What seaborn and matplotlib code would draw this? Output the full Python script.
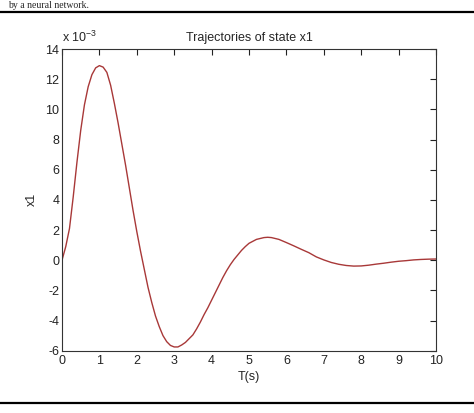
import numpy as np
import matplotlib
matplotlib.use("Agg")
import matplotlib.pyplot as plt
import pandas as pd
import seaborn as sns
from matplotlib.lines import Line2D

# значения x1 (в единицах 1e-3)
t_values = [0.0, 0.1, 0.2, 0.3, 0.4, 0.5, 0.6, 0.7, 0.8, 0.9,
            1.0, 1.1, 1.2, 1.3, 1.4, 1.5, 1.6, 1.7, 1.8, 1.9,
            2.0, 2.1, 2.2, 2.3, 2.4, 2.5, 2.6, 2.7, 2.8, 2.9,
            3.0, 3.1, 3.2, 3.3, 3.4, 3.5, 3.6, 3.7, 3.8, 3.9,
            4.0, 4.1, 4.2, 4.3, 4.4, 4.5, 4.6, 4.7, 4.8, 4.9,
            5.0, 5.2, 5.4, 5.5, 5.6, 5.8, 6.0, 6.2, 6.4, 6.6,
            6.8, 7.0, 7.2, 7.4, 7.6, 7.8, 8.0, 8.2, 8.4, 8.6,
            8.8, 9.0, 9.2, 9.4, 9.6, 9.8, 10.0]
x1_values = [0.0, 0.9, 2.1, 4.2, 6.5, 8.6, 10.3, 11.5, 12.3, 12.75,
             12.9, 12.8, 12.45, 11.6, 10.4, 9.1, 7.7, 6.3, 4.8, 3.3,
             1.9, 0.6, -0.6, -1.8, -2.8, -3.7, -4.4, -5.0, -5.4, -5.65,
             -5.75, -5.75, -5.62, -5.45, -5.2, -4.95, -4.55, -4.1, -3.6, -3.15,
             -2.65, -2.15, -1.65, -1.15, -0.7, -0.3, 0.05, 0.35, 0.65, 0.9,
             1.12, 1.38, 1.5, 1.52, 1.5, 1.38, 1.17, 0.95, 0.72, 0.5,
             0.22, 0.02, -0.15, -0.27, -0.35, -0.39, -0.38, -0.33, -0.26, -0.2,
             -0.13, -0.07, -0.03, 0.02, 0.05, 0.07, 0.08]

x_ticks = list(range(0, 11))
y_ticks = list(range(-6, 15, 2))

sns.set_theme(style="white")
plt.rcParams['font.family'] = ['Liberation Sans', 'DejaVu Sans']
plt.rcParams['xtick.direction'] = 'in'
plt.rcParams['ytick.direction'] = 'in'
plt.rcParams['axes.unicode_minus'] = False
plt.rcParams['mathtext.default'] = 'regular'

df = pd.DataFrame({"T": t_values, "x1": x1_values})

fig = plt.figure(figsize=(4.74, 4.13), dpi=100)
ax = fig.add_axes([0.1308, 0.1508, 0.789, 0.7305])

sns.lineplot(data=df, x="T", y="x1", ax=ax, color="#a83838", linewidth=1.0)

ax.set_xlim(0, 10)
ax.set_ylim(-6, 14)
ax.set_xticks(x_ticks)
ax.set_yticks(y_ticks)
ax.tick_params(axis="both", labelsize=9, colors="#222222", length=4, width=0.8,
               top=True, right=True, pad=3)
ax.tick_params(axis="y", pad=2)
for sp in ax.spines.values():
    sp.set_visible(True)
    sp.set_color("#333333")
    sp.set_linewidth(0.8)

ax.set_title("Trajectories of state x1", fontsize=9, pad=6)
ax.set_xlabel("T(s)", fontsize=9, labelpad=3)
ax.set_ylabel("x1", fontsize=9, labelpad=5)
ax.text(0.0, 1.012, r"x 10$^{-3}$", transform=ax.transAxes, fontsize=9,
        ha="left", va="bottom")

# линии-разделители страницы и текст сверху
fig.add_artist(Line2D([0, 1], [1 - 12 / 413, 1 - 12 / 413], color="black", lw=1.6))
fig.add_artist(Line2D([0, 1], [1 - 403 / 413, 1 - 403 / 413], color="black", lw=1.6))
fig.text(8 / 474, 1 - 8 / 413, "by a neural network.", fontsize=7,
         family="Liberation Serif", va="baseline", ha="left")

fig.savefig("out.png", dpi=100, facecolor="white")
